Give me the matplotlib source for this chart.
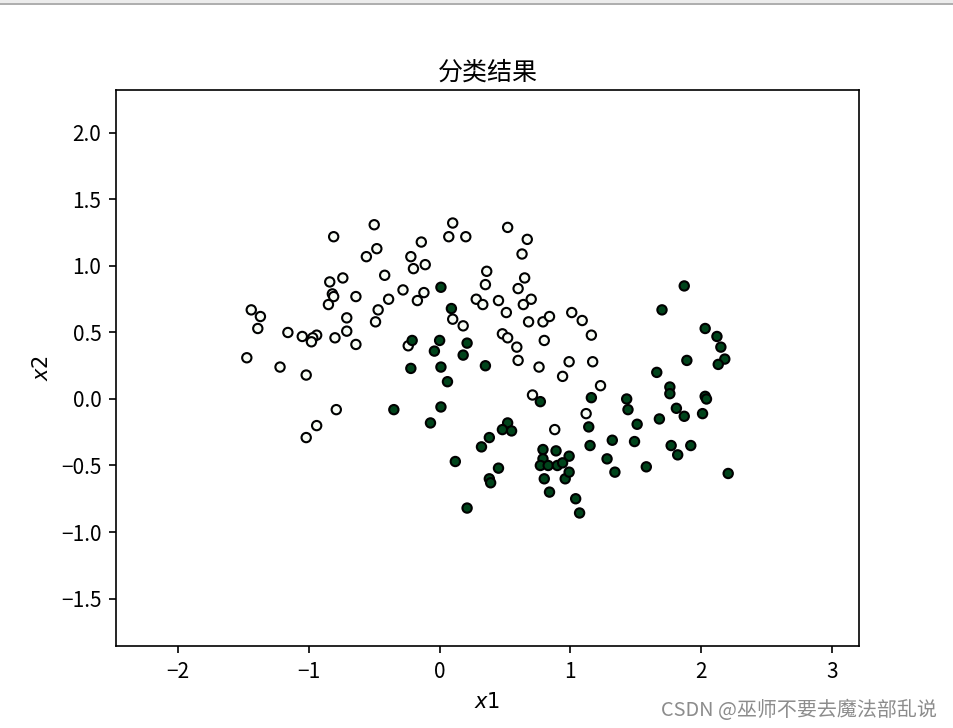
import numpy as np
import matplotlib
matplotlib.use("Agg")
from matplotlib import pyplot as plt
from matplotlib.patches import Rectangle
from matplotlib.lines import Line2D

plt.rcParams['font.family'] = ['Noto Sans CJK SC', 'DejaVu Sans']
plt.rcParams['axes.unicode_minus'] = True

# class 0 (light points)
x_a = [-0.50, -0.81, -0.48, -0.56, -0.42, -0.74, -0.84, -0.82, -0.81, -0.64,
       -0.85, -0.39, -0.47, -0.49, -0.71, -1.44, -1.37, -1.39, -1.16, -1.05,
       -0.94, -0.97, -0.98, -0.80, -0.71, -0.64, -1.474, -1.22, -1.02, -0.79,
       -0.94, -1.02, -0.28, 0.10, 0.52, 0.07, 0.20, 0.67, -0.14, 0.63,
       -0.22, -0.20, -0.11, 0.36, 0.65, 0.35, 0.60, -0.12, -0.17, 0.28,
       0.33, 0.45, 0.70, 0.64, 0.51, 0.10, 0.18, 0.68, 0.79, 0.84,
       1.01, 0.48, 0.52, 0.80, 0.59, -0.24, 0.60, 0.76, 0.99, 1.09,
       1.16, 1.17, 0.94, 0.71, 0.88, 1.23, 1.12]
y_a = [1.31, 1.22, 1.13, 1.07, 0.93, 0.91, 0.88, 0.79, 0.77, 0.77,
       0.71, 0.75, 0.67, 0.58, 0.61, 0.67, 0.62, 0.53, 0.50, 0.47,
       0.48, 0.46, 0.43, 0.46, 0.51, 0.41, 0.31, 0.24, 0.18, -0.08,
       -0.20, -0.29, 0.82, 1.323, 1.29, 1.22, 1.22, 1.20, 1.18, 1.09,
       1.07, 0.98, 1.01, 0.96, 0.91, 0.86, 0.83, 0.80, 0.74, 0.75,
       0.71, 0.74, 0.75, 0.71, 0.65, 0.60, 0.55, 0.58, 0.58, 0.62,
       0.65, 0.49, 0.46, 0.44, 0.39, 0.40, 0.29, 0.24, 0.28, 0.59,
       0.48, 0.28, 0.17, 0.03, -0.23, 0.10, -0.11]

# class 1 (dark points)
x_b = [0.01, 0.09, -0.21, 0.00, 0.21, -0.04, 0.18, -0.22, 0.01, 0.35,
       0.06, 0.77, 0.01, -0.35, -0.07, 0.52, 0.48, 0.55, 0.38, 0.32,
       0.79, 0.89, 0.99, 0.79, 0.77, 0.83, 0.90, 0.94, 0.12, 0.45,
       0.38, 0.39, 0.80, 0.96, 0.99, 0.84, 0.21, 1.87, 1.70, 2.03,
       2.12, 2.15, 2.18, 2.13, 1.89, 1.66, 1.76, 1.76, 2.03, 2.04,
       1.16, 1.43, 1.44, 1.81, 1.87, 2.01, 1.68, 1.14, 1.51, 1.32,
       1.49, 1.15, 1.77, 1.92, 1.82, 1.28, 1.58, 1.34, 2.206, 1.04,
       1.07]
y_b = [0.84, 0.68, 0.44, 0.44, 0.42, 0.36, 0.33, 0.23, 0.24, 0.25,
       0.13, -0.02, -0.06, -0.08, -0.18, -0.18, -0.23, -0.24, -0.29, -0.36,
       -0.38, -0.39, -0.43, -0.45, -0.50, -0.50, -0.50, -0.48, -0.47, -0.52,
       -0.60, -0.63, -0.60, -0.60, -0.55, -0.70, -0.82, 0.85, 0.67, 0.53,
       0.47, 0.39, 0.30, 0.26, 0.29, 0.20, 0.09, 0.04, 0.02, 0.00,
       0.01, 0.00, -0.08, -0.07, -0.13, -0.11, -0.15, -0.21, -0.19, -0.31,
       -0.32, -0.35, -0.35, -0.35, -0.42, -0.45, -0.51, -0.55, -0.56, -0.75,
       -0.857]

X = np.column_stack([x_a + x_b, y_a + y_b])
labels = np.array([0] * len(x_a) + [1] * len(x_b))

fig = plt.figure(figsize=(953 / 150, 728 / 150), dpi=150)
ax = fig.add_axes([116 / 953, 1 - 646 / 728, (859 - 116) / 953, (646 - 90) / 728])

ax.scatter(X[:, 0], X[:, 1], c=labels, cmap=plt.cm.Greens, edgecolors='k', s=20)

# limits padded by 1 like a meshgrid range
ax.set_xlim(X[:, 0].min() - 1, X[:, 0].max() + 1)
ax.set_ylim(X[:, 1].min() - 1, X[:, 1].max() + 1)
ax.set_xticks([-2, -1, 0, 1, 2, 3])
ax.set_yticks([-1.5, -1.0, -0.5, 0.0, 0.5, 1.0, 1.5, 2.0])
ax.set_title('分类结果', pad=5)
ax.set_xlabel('$x1$')
ax.set_ylabel('$x2$')

# screenshot frame bits + watermark
fig.add_artist(Rectangle((0, 1 - 3 / 728), 1, 3 / 728, transform=fig.transFigure,
                         facecolor='#ececec', edgecolor='none'))
fig.add_artist(Line2D([0, 1], [1 - 3.5 / 728, 1 - 3.5 / 728], transform=fig.transFigure,
                      color='#a0a0a0', lw=0.8))
fig.text(937 / 953, 1 - 710 / 728, 'CSDN @巫师不要去魔法部乱说', ha='right', va='center',
         color='#8c8c8c', fontsize=9.6)

fig.savefig('out.png', dpi=150)
